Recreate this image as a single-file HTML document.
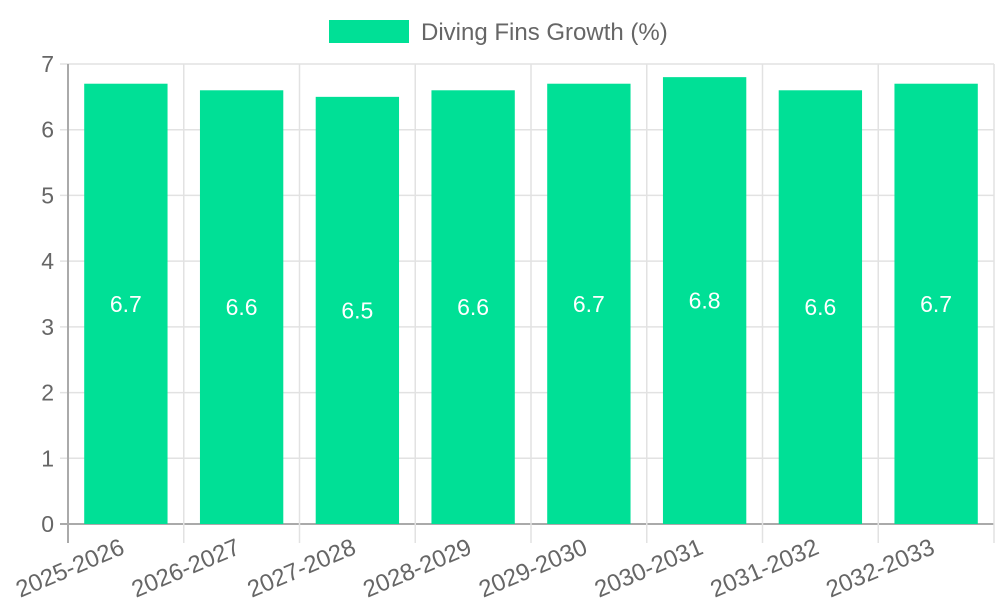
<!DOCTYPE html>
<html><head><meta charset="utf-8"><style>
body{margin:0;background:#fff;width:1000px;height:600px;overflow:hidden}
text{font-family:"Liberation Sans",sans-serif}
</style></head><body>
<svg id="chart" width="1000" height="600" xmlns="http://www.w3.org/2000/svg">
<g>
<rect x="329" y="20" width="80" height="23" fill="#00e096"/>
<text x="421" y="40" font-size="24" fill="#666">Diving Fins Growth (%)</text>
</g>
</svg>
<script>
const categories=["2025-2026","2026-2027","2027-2028","2028-2029","2029-2030","2030-2031","2031-2032","2032-2033"];
const values=[6.7,6.6,6.5,6.6,6.7,6.8,6.6,6.7];
const yTicks=[0,1,2,3,4,5,6,7];
const svg=document.getElementById('chart');
const NS="http://www.w3.org/2000/svg";
const L=68,R=994,T=64,B=524,yMax=7;
const cw=(R-L)/categories.length;
const y=v=>B-(v/yMax)*(B-T);
const xc=i=>L+cw*(i+0.5);
function mk(tag,attrs,parent){const e=document.createElementNS(NS,tag);for(const k in attrs)e.setAttribute(k,attrs[k]);(parent||svg).appendChild(e);return e;}
const grid=mk('g',{});


yTicks.forEach(t=>{
  const l=mk('line',{x1:L-8,x2:R,y1:y(t),y2:y(t),stroke:t===0?'#aaa':'#e2e2e2','stroke-width':t===0?2:1.5},grid);
  
  
  const tx=mk('text',{x:L-14,y:y(t)+8,'text-anchor':'end','font-size':23,fill:'#666'});
  tx.textContent=t;
  
  
});
for(let i=0;i<=categories.length;i++){
  const x=L+cw*i;
  const l=mk('line',{x1:x,x2:x,y1:T,y2:B+19,stroke:i===0?'#aaa':'#e2e2e2','stroke-width':i===0?2:1.5},grid);
  
  
}
categories.forEach((c,i)=>{
  const bw=cw*0.72;
  const r=mk('rect',{x:xc(i)-bw/2,y:y(values[i]),width:bw,height:B-y(values[i]),fill:'#00e096'});
  
  
  const v=mk('text',{x:xc(i),y:(y(values[i])+B)/2+8,'text-anchor':'middle','font-size':23,fill:'#fff'});
  v.textContent=values[i];
  
  
  const lb=mk('text',{transform:`translate(${xc(i)},${553}) rotate(-23)`,'text-anchor':'end','font-size':24,fill:'#666'});
  lb.textContent=c;
  
  
});
</script>
</body></html>
